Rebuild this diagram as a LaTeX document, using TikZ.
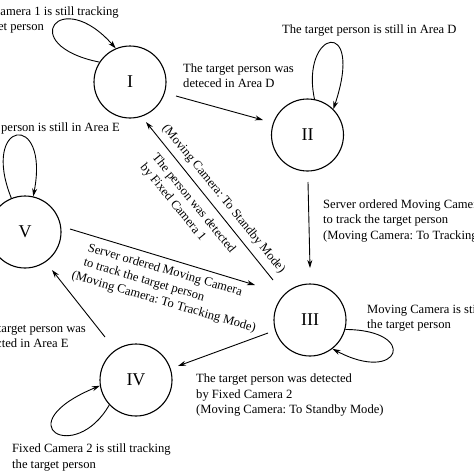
\documentclass[tikz,border=0pt]{standalone}
\usepackage{fontspec}
\setmainfont{Liberation Serif}
\usetikzlibrary{arrows.meta,calc}
\frenchspacing
\begin{document}
\begin{tikzpicture}[x=1pt,y=-1pt,
  state/.style={circle,draw,line width=1.1pt,minimum size=72pt,inner sep=0pt,font=\fontsize{18}{20}\selectfont},
  arr/.style={line width=0.9pt,-{Stealth[length=8pt,width=5pt]}},
  lbl/.style={font=\fontsize{12.6}{15.5}\selectfont\frenchspacing,align=left,inner sep=0pt}]
\useasboundingbox (0,0) rectangle (474,474);
\fill[white] (0,0) rectangle (474,474);
\clip (0,0) rectangle (474,474);

% states
\node[state] (I)   at (130,82)    {I};
\node[state] (II)  at (307.5,135) {II};
\node[state] (III) at (310,320)   {III};
\node[state] (IV)  at (136,380)   {IV};
\node[state] (V)   at (25,232)    {V};

% self loops
\draw[arr] (I.147) .. controls (15,45) and (60,-15) .. (I.113);
\draw[arr] (II.79) .. controls (300,30) and (365,15) .. (II.45);
\draw[arr] (V.112) .. controls (-20,120) and (50,110) .. (V.77);
\draw[arr] (III.-15) .. controls (420,330) and (400,385) .. (III.-52);
\draw[arr] (IV.223) .. controls (75,465) and (5,425) .. (IV.189);

% transitions
\draw[arr] ($(I)+(46,14)$) -- ($(II)+(-44.5,-15)$);
\draw[arr] ($(II)+(0.5,47)$) -- ($(III)+(0,-52)$);
\draw[arr] ($(III)+(-37,-40)$) -- ($(I)+(16,40)$);
\draw[arr] ($(V)+(45,-3)$) -- ($(III)+(-55,-35)$);
\draw[arr] ($(III)+(-42,13)$) -- ($(IV)+(42,-14)$);
\draw[arr] ($(IV)+(-31,-43)$) -- ($(V)+(27,38)$);

% labels
\node[lbl,anchor=north west] (l1) at (-40,6.5) {Fixed Camera 1 is still tracking\\the target person};
\node[lbl,anchor=north west] (l2) at (282,24.5) {The target person is still in Area D};
\node[lbl,anchor=north west] (l3) at (183,63.5) {The target person was\\deteced in Area D};
\node[lbl,anchor=north west] (l4) at (323,199.5) {Server ordered Moving Camera\\to track the target person\\(Moving Camera: To Tracking Mode)};
\node[lbl,anchor=north west] (l5) at (367,304.5) {Moving Camera is still tracking\\the target person};
\node[lbl,anchor=north west] (l6) at (196,374) {The target person was detected\\by Fixed Camera 2\\(Moving Camera: To Standby Mode)};
\node[lbl,anchor=north west] (l7) at (12,444) {Fixed Camera 2 is still tracking\\the target person};
\node[lbl,anchor=north west] (l8) at (-25,323.5) {The target person was\\detected in Area E};
\node[lbl,anchor=north east] (l9) at (120,122.5) {The target person is still in Area E};
\node[lbl,anchor=center,rotate=-50.8] (l10) at (223.5,199) {(Moving Camera: To Standby Mode)};
\node[lbl,anchor=center,rotate=-50.8] (l11) at (187.5,208.5) {The person was detected\\by Fixed Camera 1};
\node[lbl,anchor=west,rotate=-16.2] (l12) at (83.7,263) {Server ordered Moving Camera\\to track the target person\\\hspace*{-8pt}(Moving Camera: To Tracking Mode)};
\end{tikzpicture}
\end{document}
